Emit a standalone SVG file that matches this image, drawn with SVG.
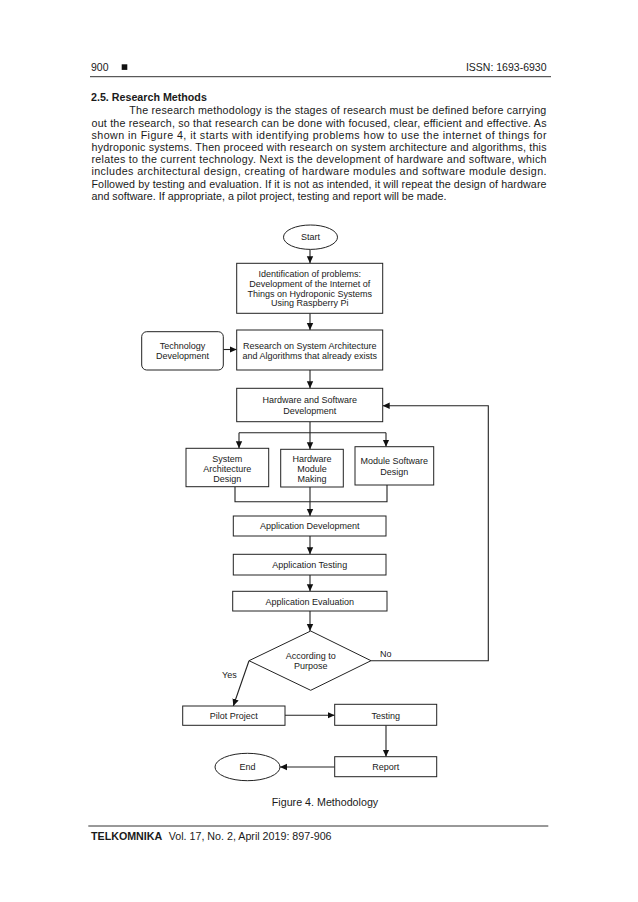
<svg xmlns="http://www.w3.org/2000/svg" width="638" height="902" viewBox="0 0 638 902">
<style>
text{font-family:"Liberation Sans",Arial,sans-serif;fill:#1a1a1a}
.p{font-size:10.7px}
.b{font-weight:bold}
.n{font-size:9px;text-anchor:middle}
.box{fill:#fff;stroke:#222;stroke-width:1}
.ln{fill:none;stroke:#222;stroke-width:1.1}
.ar{fill:none;stroke:#222;stroke-width:1.1;marker-end:url(#ah)}
</style>
<defs>
<marker id="ah" markerWidth="8" markerHeight="8" refX="7" refY="4" orient="auto" markerUnits="userSpaceOnUse">
<path d="M0,0.8 L7,4 L0,7.2 Z" fill="#111"/>
</marker>
</defs>
<rect width="638" height="902" fill="#fff"/>
<g id="header">
<text x="91" y="71" style="font-size:10.5px">900</text>
<rect x="121.7" y="64.3" width="5.6" height="5.6" fill="#111"/>
<text x="546.5" y="71" style="font-size:10.5px;text-anchor:end">ISSN: 1693-6930</text>
<line x1="90" y1="76.7" x2="551" y2="76.7" stroke="#333" stroke-width="1"/>
</g>
<g id="body-text" class="p">
<text x="91" y="100.8" class="b">2.5. Research Methods</text>
<text x="129.3" y="114.4" textLength="417" lengthAdjust="spacing">The research methodology is the stages of research must be defined before carrying</text>
<text x="91.5" y="126.6" textLength="455" lengthAdjust="spacing">out the research, so that research can be done with focused, clear, efficient and effective. As</text>
<text x="91.5" y="138.8" textLength="455" lengthAdjust="spacing">shown in Figure 4, it starts with identifying problems how to use the internet of things for</text>
<text x="91.5" y="151" textLength="455" lengthAdjust="spacing">hydroponic systems. Then proceed with research on system architecture and algorithms, this</text>
<text x="91.5" y="163.2" textLength="455" lengthAdjust="spacing">relates to the current technology. Next is the development of hardware and software, which</text>
<text x="91.5" y="175.4" textLength="455" lengthAdjust="spacing">includes architectural design, creating of hardware modules and software module design.</text>
<text x="91.5" y="187.6" textLength="455" lengthAdjust="spacing">Followed by testing and evaluation. If it is not as intended, it will repeat the design of hardware</text>
<text x="91.5" y="199.8" textLength="355" lengthAdjust="spacing">and software. If appropriate, a pilot project, testing and report will be made.</text>
</g>
<g id="connectors">
<line class="ar" x1="310" y1="249.3" x2="310" y2="263.3"/>
<line class="ar" x1="310" y1="313.3" x2="310" y2="330"/>
<line class="ar" x1="223.3" y1="349.5" x2="236.7" y2="349.5"/>
<line class="ar" x1="310" y1="370" x2="310" y2="388.3"/>
<polyline class="ln" points="310,421.7 310,432.7"/>
<polyline class="ln" points="239,432.7 386,432.7"/>
<line class="ar" x1="239" y1="432.7" x2="239" y2="448.3"/>
<line class="ar" x1="310" y1="432.7" x2="310" y2="449.3"/>
<line class="ar" x1="386" y1="432.7" x2="386" y2="446.7"/>
<polyline class="ln" points="235,486.7 235,501.7 387,501.7 387,485"/>
<line class="ar" x1="310" y1="487" x2="310" y2="516"/>
<line class="ar" x1="310" y1="536" x2="310" y2="554.3"/>
<line class="ar" x1="310" y1="575" x2="310" y2="591.3"/>
<line class="ar" x1="310" y1="611" x2="310" y2="631"/>
<polyline class="ar" points="371,660.7 488.3,660.7 488.3,405.7 382.7,405.7"/>
<line class="ar" x1="249" y1="660.7" x2="233.3" y2="706"/>
<line class="ar" x1="285" y1="715.3" x2="334.7" y2="715.3"/>
<line class="ar" x1="386" y1="725.3" x2="386" y2="756.7"/>
<line class="ar" x1="334.7" y1="767" x2="280" y2="767"/>
<text x="380" y="656.5" style="font-size:9px">No</text>
<text x="222" y="678.3" style="font-size:9px">Yes</text>
</g>
<g id="start">
<ellipse class="box" cx="310.5" cy="237.2" rx="27" ry="12.2"/>
<text class="n" x="310.5" y="240.4">Start</text>
</g>
<g id="identification">
<rect class="box" x="236.7" y="263.3" width="146" height="50"/>
<text class="n" x="309.7" y="277">Identification of problems:</text>
<text class="n" x="309.7" y="286.8">Development of the Internet of</text>
<text class="n" x="309.7" y="296.6">Things on Hydroponic Systems</text>
<text class="n" x="309.7" y="306.4">Using Raspberry Pi</text>
</g>
<g id="technology">
<rect class="box" x="141.7" y="331.7" width="81.6" height="38.3" rx="5"/>
<text class="n" x="182.5" y="349.2">Technology</text>
<text class="n" x="182.5" y="359.2">Development</text>
</g>
<g id="research">
<rect class="box" x="236.7" y="330" width="146" height="40"/>
<text class="n" x="309.7" y="349.2">Research on System Architecture</text>
<text class="n" x="309.7" y="359.2">and Algorithms that already exists</text>
</g>
<g id="hwsw">
<rect class="box" x="236.7" y="388.3" width="146" height="33.4"/>
<text class="n" x="309.7" y="403.2">Hardware and Software</text>
<text class="n" x="309.7" y="413.9">Development</text>
</g>
<g id="sysarch">
<rect class="box" x="186" y="448.3" width="82.7" height="38.4"/>
<text class="n" x="227.3" y="461.5">System</text>
<text class="n" x="227.3" y="471.5">Architecture</text>
<text class="n" x="227.3" y="481.5">Design</text>
</g>
<g id="hwmodule">
<rect class="box" x="280.7" y="449.3" width="62.6" height="37.7"/>
<text class="n" x="312" y="461.5">Hardware</text>
<text class="n" x="312" y="471.5">Module</text>
<text class="n" x="312" y="481.5">Making</text>
</g>
<g id="swmodule">
<rect class="box" x="355" y="446.7" width="78.7" height="38.3"/>
<text class="n" x="394.3" y="464.2">Module Software</text>
<text class="n" x="394.3" y="474.5">Design</text>
</g>
<g id="appdev">
<rect class="box" x="233.3" y="516" width="152.7" height="20"/>
<text class="n" x="309.7" y="529.2">Application Development</text>
</g>
<g id="apptest">
<rect class="box" x="233.3" y="554.3" width="152.7" height="20.7"/>
<text class="n" x="309.7" y="568.2">Application Testing</text>
</g>
<g id="appeval">
<rect class="box" x="232.7" y="591.3" width="154.3" height="19.7"/>
<text class="n" x="309.7" y="604.5">Application Evaluation</text>
</g>
<g id="decision">
<polygon class="box" points="310.7,631 371,660.7 310.7,690.3 249,660.7"/>
<text class="n" x="310.7" y="659.2">According to</text>
<text class="n" x="310.7" y="669.2">Purpose</text>
</g>
<g id="pilot">
<rect class="box" x="182.7" y="706" width="102.3" height="19.3"/>
<text class="n" x="233.8" y="719.2">Pilot Project</text>
</g>
<g id="testing">
<rect class="box" x="334.7" y="704.3" width="102" height="21"/>
<text class="n" x="385.7" y="718.9">Testing</text>
</g>
<g id="report">
<rect class="box" x="334.7" y="756.7" width="102" height="20"/>
<text class="n" x="385.7" y="770.2">Report</text>
</g>
<g id="end">
<ellipse class="box" cx="247.5" cy="767" rx="32.5" ry="13.7"/>
<text class="n" x="247.5" y="770.2">End</text>
</g>
<g id="caption">
<text class="p" x="325" y="806.4" style="text-anchor:middle">Figure 4. Methodology</text>
</g>
<g id="footer">
<line x1="88.3" y1="826" x2="548.3" y2="826" stroke="#333" stroke-width="1"/>
<text x="91" y="839.5" style="font-size:10.7px"><tspan font-weight="bold">TELKOMNIKA</tspan><tspan dx="6.5">Vol. 17, No. 2, April 2019: 897-906</tspan></text>
</g>
</svg>
